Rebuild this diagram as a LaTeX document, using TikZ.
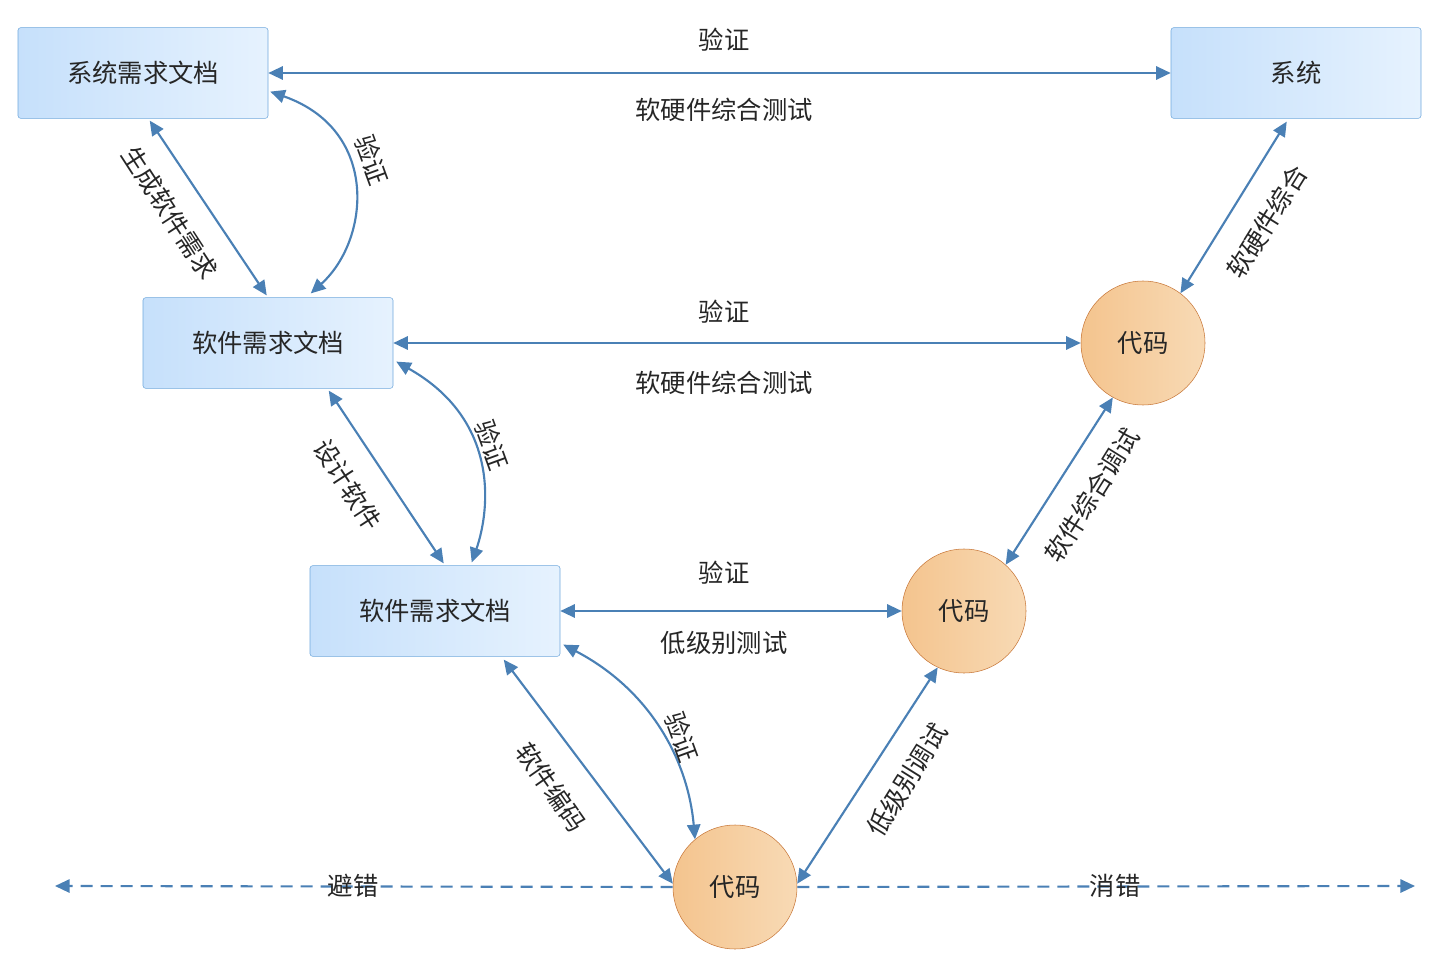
\documentclass[tikz,border=0pt]{standalone}
\usepackage{fontspec}
\setmainfont{Noto Sans CJK SC}
\usetikzlibrary{calc,arrows.meta}
\definecolor{ln}{HTML}{4A80B5}
\definecolor{bb}{HTML}{6FA8DC}
\definecolor{cb}{HTML}{C8783A}
\definecolor{bl}{HTML}{C6E0FB}
\definecolor{br}{HTML}{E6F2FE}
\definecolor{ol}{HTML}{F4C48E}
\definecolor{or}{HTML}{F8DAB5}
\begin{document}
\begin{tikzpicture}[x=0.75pt,y=-0.75pt,
 box/.style={draw=bb,rounded corners=2pt,minimum width=187.5pt,minimum height=68pt,left color=bl,right color=br,font=\fontsize{19}{21}\selectfont,text=black!85},
 circ/.style={circle,draw=cb,minimum size=93pt,left color=ol,right color=or,font=\fontsize{19}{21}\selectfont,text=black!85},
 ar/.style={draw=ln,line width=1.6pt,{Triangle[length=11pt,width=10pt]}-{Triangle[length=11pt,width=10pt]}},
 dar/.style={draw=ln,line width=1.6pt,-{Triangle[length=11pt,width=10pt]},dash pattern=on 9pt off 6pt},
 lb/.style={font=\fontsize{19}{21}\selectfont,text=black!85,inner sep=1pt}]
\useasboundingbox (0,0) rectangle (1440,970);
\node[box] (A) at (143,73) {系统需求文档};
\node[box] (B) at (1296,73) {系统};
\node[box] (C) at (268,343) {软件需求文档};
\node[box] (D) at (435,611) {软件需求文档};
\node[circ] (E) at (1143,343) {代码};
\node[circ] (F) at (964,611) {代码};
\node[circ] (G) at (735,887) {代码};
\coordinate (L) at (55,886);
\coordinate (R) at (1415,886);
% horizontals
\draw[ar] (A) -- (B);
\node[lb] at (724,40) {验证};
\node[lb] at (724,110) {软硬件综合测试};
\draw[ar] (C) -- (E);
\node[lb] at (724,312) {验证};
\node[lb] at (724,383) {软硬件综合测试};
\draw[ar] (D) -- (F);
\node[lb] at (724,573) {验证};
\node[lb] at (724,643) {低级别测试};
% left side
\draw[ar] ($(A.south west)+(132,2)$) -- ($(C.north west)+(124,-2)$);
\node[lb,rotate=-57] at (170,213) {生成软件需求};
\draw[ar] ($(A.south east)+(2,-27)$) .. controls (380,130) and (370,240) .. ($(C.north west)+(168,-4)$);
\node[lb,rotate=-70] at (372,160) {验证};
\draw[ar] ($(C.south west)+(186,2)$) -- ($(D.north west)+(134,-2)$);
\node[lb,rotate=-57] at (348,485) {设计软件};
\draw[ar] ($(C.south east)+(3,-27)$) .. controls (500,420) and (490,510) .. ($(D.north west)+(162,-3)$);
\node[lb,rotate=-70] at (492,445) {验证};
\draw[ar] ($(D.south west)+(194,3)$) -- (G.177);
\node[lb,rotate=-55] at (551,787) {软件编码};
\draw[ar] ($(D.south east)+(3,-12)$) .. controls (650,690) and (688,760) .. (G.130);
\node[lb,rotate=-70] at (682,737) {验证};
% right side
\draw[ar] ($(B.south west)+(116,3)$) -- (E.53);
\node[lb,rotate=58] at (1267,222) {软硬件综合};
\draw[ar] (E.241) -- (F.48);
\node[lb,rotate=58] at (1092,495) {软件综合调试};
\draw[ar] (F.245) -- (G.3);
\node[lb,rotate=58] at (907,780) {低级别调试};
% dashed
\draw[dar] (G.west) -- (L);
\draw[dar] (G.east) -- (R);
\node[lb] at (353,886) {避错};
\node[lb] at (1115,886) {消错};
\end{tikzpicture}
\end{document}
